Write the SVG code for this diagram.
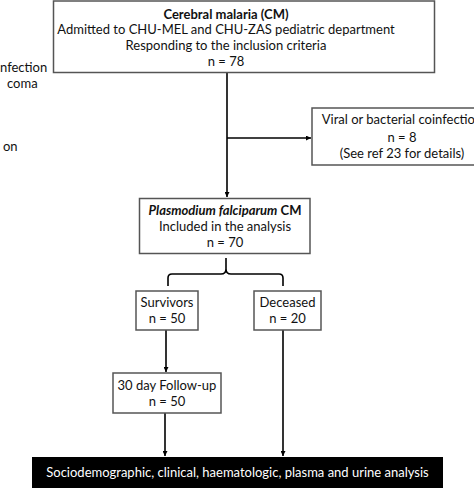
<svg xmlns="http://www.w3.org/2000/svg" width="474" height="489" viewBox="0 0 474 489">
<defs>
<style>
text{font-family:Lato,"Open Sans","Liberation Sans",sans-serif;font-size:13px;fill:#111;text-anchor:middle}
.box{fill:#fff;stroke:#555;stroke-width:1.5}
.b{font-weight:bold}
.w{fill:#fff}
.l{text-anchor:start}
.c{fill:none;stroke:#000;stroke-width:1.6}
</style>
<marker id="ah" viewBox="0 0 10 10" refX="10" refY="5" markerWidth="5" markerHeight="5" orient="auto" markerUnits="userSpaceOnUse"><path d="M0,0L10,5L0,10z" fill="#000"/></marker>
</defs>
<rect width="474" height="489" fill="#fff"/>
<g id="left-cut">
<text class="l" x="0" y="72">nfection</text>
<text class="l" x="7" y="88">coma</text>
<text class="l" x="3" y="151">on</text>
</g>
<g id="connectors">
<path class="c" d="M227,73V197" marker-end="url(#ah)"/>
<path class="c" d="M227,138H311" marker-end="url(#ah)"/>
<path class="c" d="M226,258V269Q226,274 221,274H172Q168,274 168,278V286M226,269Q226,274 231,274H279Q283,274 283,278V286"/>
<path class="c" d="M166,330V372" marker-end="url(#ah)"/>
<path class="c" d="M165,413V456" marker-end="url(#ah)"/>
<path class="c" d="M283,330V456" marker-end="url(#ah)"/>
</g>
<g id="cm">
<rect class="box" x="53.5" y="1" width="381" height="71.5"/>
<text class="b" x="226" y="19">Cerebral malaria (CM)</text>
<text x="226" y="34">Admitted to CHU-MEL and CHU-ZAS pediatric department</text>
<text x="226" y="50">Responding to the inclusion criteria</text>
<text x="226" y="66">n = 78</text>
</g>
<g id="coinfection">
<rect class="box" x="312" y="108" width="170" height="57"/>
<text x="402" y="124">Viral or bacterial coinfection</text>
<text x="402" y="142">n = 8</text>
<text x="402" y="158">(See ref 23 for details)</text>
</g>
<g id="pf">
<rect class="box" x="139.5" y="198.5" width="170.5" height="55"/>
<text x="225" y="215"><tspan class="b" font-style="italic">Plasmodium falciparum</tspan><tspan class="b"> CM</tspan></text>
<text x="225" y="231">Included in the analysis</text>
<text x="225" y="247">n = 70</text>
</g>
<g id="survivors">
<rect class="box" x="136" y="291" width="62" height="39"/>
<text x="167" y="307">Survivors</text>
<text x="167" y="323">n = 50</text>
</g>
<g id="deceased">
<rect class="box" x="254" y="291" width="67" height="39"/>
<text x="287.5" y="307">Deceased</text>
<text x="287.5" y="323">n = 20</text>
</g>
<g id="followup">
<rect class="box" x="113" y="373" width="108" height="40"/>
<text x="167" y="390">30 day Follow-up</text>
<text x="167" y="406">n = 50</text>
</g>
<g id="analysis">
<rect x="32" y="457" width="411" height="31" fill="#000"/>
<text class="w" x="237.5" y="477">Sociodemographic, clinical, haematologic, plasma and urine analysis</text>
</g>
</svg>
